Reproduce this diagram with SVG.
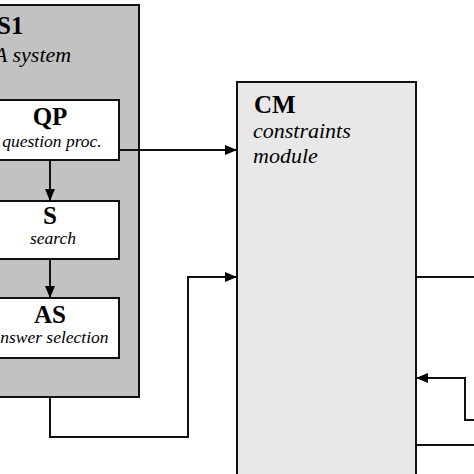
<svg xmlns="http://www.w3.org/2000/svg" width="474" height="474" viewBox="0 0 474 474">
<defs>
<marker id="ah" markerWidth="12" markerHeight="10" refX="12" refY="5" orient="auto" markerUnits="userSpaceOnUse">
<path d="M0,0 L12,5 L0,10 Z" fill="#000"/>
</marker>
<style>
.box{stroke:#111;stroke-width:2}
.t{font-family:"Liberation Serif","Times New Roman",serif;fill:#000}
.b{font-weight:bold;font-size:25px}
.i{font-style:italic}
.c{stroke:#111;stroke-width:2;fill:none}
</style>
</defs>
<rect width="474" height="474" fill="#fff"/>
<g id="S1">
<rect class="box" x="-20" y="5" width="159" height="392" fill="#c2c2c2"/>
<text class="t b" x="-3" y="34" font-size="26">S1</text>
<text class="t i" x="-6" y="62" font-size="22">A system</text>
</g>
<g id="QP">
<rect class="box" x="-20" y="100" width="139" height="60" fill="#fff"/>
<text class="t b" x="50" y="125" text-anchor="middle">QP</text>
<text class="t i" x="52" y="147" font-size="17.5" text-anchor="middle">question proc.</text>
</g>
<g id="S">
<rect class="box" x="-20" y="201" width="139" height="58" fill="#fff"/>
<text class="t b" x="50" y="224" text-anchor="middle">S</text>
<text class="t i" x="53" y="244" font-size="17.5" text-anchor="middle">search</text>
</g>
<g id="AS">
<rect class="box" x="-20" y="298" width="139" height="60" fill="#fff"/>
<text class="t b" x="50" y="323" text-anchor="middle">AS</text>
<text class="t i" x="50" y="343" font-size="17.5" text-anchor="middle">answer selection</text>
</g>
<g id="CM">
<rect class="box" x="237" y="82" width="179" height="400" fill="#e8e8e8"/>
<text class="t b" x="254" y="113" font-size="26">CM</text>
<text class="t i" x="253" y="138" font-size="22">constraints</text>
<text class="t i" x="253" y="163" font-size="22">module</text>
</g>
<g id="connectors">
<path class="c" d="M50,160 V201" marker-end="url(#ah)"/>
<path class="c" d="M50,259 V298" marker-end="url(#ah)"/>
<path class="c" d="M119,150 H237" marker-end="url(#ah)"/>
<path class="c" d="M50,397 V437 H188 V277 H237" marker-end="url(#ah)"/>
<path class="c" d="M416,277 H476"/>
<path class="c" d="M476,420 H465 V378 H416" marker-end="url(#ah)"/>
<path class="c" d="M416,445 H476"/>
</g>
</svg>
